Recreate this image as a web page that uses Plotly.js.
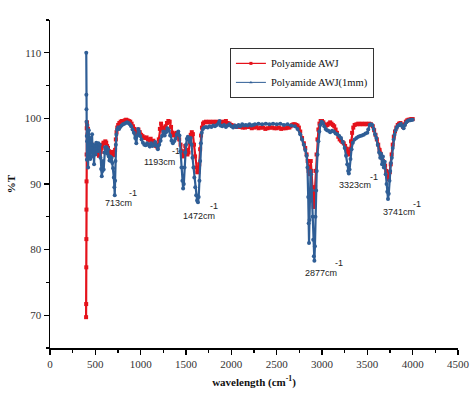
<!DOCTYPE html>
<html>
<head>
<meta charset="utf-8">
<script src="https://cdn.plot.ly/plotly-3.0.1.min.js"></script>
<style>html,body{margin:0;padding:0;background:#fff;}#chart{width:474px;height:393px;}</style>
</head>
<body>
<div id="chart"></div>
<script>
// Series names
var seriesNames = ["Polyamide AWJ", "Polyamide AWJ(1mm)"];

// Polyamide AWJ (red) — wavenumber (cm-1) and %T
var redX = [398,399,400,401,402,403,404,405,407,410,414,418,423,428,434,440,446,452,460,468,476,484,492,500,510,520,530,540,550,560,570,580,590,600,610,620,630,640,650,660,670,680,690,700,710,718,726,734,742,752,765,780,795,810,825,840,855,870,885,900,915,930,945,960,975,990,1005,1020,1035,1050,1065,1080,1095,1110,1125,1140,1155,1170,1185,1200,1212,1225,1238,1250,1262,1275,1290,1305,1320,1335,1350,1365,1380,1395,1410,1425,1440,1455,1468,1480,1492,1504,1516,1528,1540,1552,1564,1576,1588,1600,1612,1624,1636,1646,1656,1666,1676,1688,1700,1720,1740,1760,1780,1800,1820,1840,1860,1880,1900,1920,1940,1960,1980,2000,2020,2040,2060,2080,2100,2125,2150,2175,2200,2225,2250,2275,2300,2325,2350,2375,2400,2425,2450,2475,2500,2525,2550,2575,2600,2620,2640,2655,2670,2685,2700,2715,2730,2745,2760,2780,2800,2815,2830,2842,2852,2860,2868,2876,2884,2892,2900,2908,2916,2924,2932,2940,2950,2960,2972,2985,3000,3015,3030,3045,3060,3075,3090,3105,3120,3135,3150,3165,3180,3195,3210,3225,3240,3255,3270,3282,3292,3300,3310,3320,3332,3345,3360,3380,3400,3420,3440,3460,3480,3500,3520,3540,3560,3575,3590,3605,3620,3635,3648,3660,3672,3684,3696,3708,3718,3728,3738,3748,3758,3768,3780,3792,3805,3820,3835,3850,3865,3880,3895,3910,3925,3940,3955,3970,3985,4000];
var redY = [69.7,71.7,77.3,81.6,86.1,90.4,94.5,98.5,99.4,98.8,97.5,98.4,97.0,96.5,96.0,95.7,95.2,95.6,96.0,95.4,95.8,95.2,95.0,95.5,95.8,95.3,94.6,94.3,94.5,94.9,95.5,96.0,96.3,96.2,96.5,96.3,95.8,95.5,95.0,94.7,94.6,94.8,94.9,94.5,94.4,95.2,96.8,97.9,98.6,99.0,99.3,99.5,99.6,99.6,99.7,99.8,99.7,99.6,99.5,99.2,98.8,98.4,97.9,97.6,98.3,97.9,97.5,97.3,97.1,97.0,97.1,96.8,96.6,96.9,96.4,96.6,96.2,95.8,95.6,96.8,98.4,99.2,98.6,98.0,98.3,98.8,99.3,99.6,99.5,98.7,97.8,97.4,97.6,97.8,97.4,96.8,96.0,95.0,94.2,94.6,95.8,95.2,94.5,94.8,96.3,97.5,97.9,97.6,96.0,94.2,92.5,91.8,91.8,93.0,95.3,97.4,98.6,99.2,99.4,99.5,99.4,99.5,99.4,99.5,99.4,99.5,99.3,99.4,99.5,99.4,99.6,99.3,99.2,99.0,98.9,98.8,98.7,98.8,98.7,98.6,98.6,98.7,98.7,98.5,98.6,98.7,98.5,98.6,98.6,98.4,98.5,98.6,98.6,98.5,98.5,98.6,98.4,98.5,98.5,98.6,98.6,98.8,99.0,99.1,99.1,99.0,98.9,98.6,98.0,97.0,96.2,95.5,94.5,93.5,92.0,91.5,92.5,93.5,92.0,89.5,87.5,86.5,87.5,89.5,92.0,94.5,96.8,98.3,99.2,99.6,99.6,99.4,99.1,98.9,99.0,99.2,99.4,99.2,99.0,98.8,98.3,97.8,97.2,96.8,96.6,96.4,96.2,95.8,95.4,94.9,94.5,94.6,95.3,96.5,97.8,98.6,99.0,99.1,99.2,99.1,99.2,99.1,99.2,99.1,99.2,99.1,98.8,98.2,97.5,96.8,96.0,95.2,94.6,94.0,93.5,93.2,92.8,92.0,91.2,90.7,90.8,91.8,93.0,94.5,96.0,97.2,98.0,98.6,99.0,99.2,99.3,99.0,98.7,99.1,99.5,99.7,99.8,99.8,99.9,99.9];

// Polyamide AWJ(1mm) (blue) — wavenumber (cm-1) and %T
var blueX = [400,401,402,403,405,407,409,411,413,416,420,424,428,433,438,444,450,457,464,471,478,486,494,502,510,518,526,534,542,550,557,564,571,578,585,592,600,608,616,624,632,640,648,656,664,672,680,688,696,704,710,714,718,722,726,732,740,750,762,775,790,805,820,835,850,865,880,895,910,925,940,952,962,972,982,995,1010,1025,1040,1055,1070,1085,1100,1115,1130,1145,1160,1175,1190,1205,1220,1235,1250,1265,1280,1295,1310,1325,1340,1355,1370,1385,1400,1415,1428,1440,1450,1460,1468,1476,1484,1492,1500,1510,1520,1530,1540,1552,1562,1572,1582,1592,1602,1612,1622,1632,1640,1648,1656,1664,1674,1686,1700,1720,1740,1760,1780,1800,1820,1840,1860,1870,1880,1900,1920,1940,1960,1980,2000,2020,2040,2060,2080,2100,2120,2140,2160,2180,2200,2220,2240,2260,2300,2340,2380,2420,2460,2500,2540,2580,2620,2660,2700,2730,2760,2780,2800,2815,2830,2840,2848,2853,2857,2862,2868,2874,2880,2887,2895,2903,2910,2916,2922,2928,2935,2942,2950,2960,2970,2980,2995,3010,3025,3040,3055,3070,3090,3110,3130,3150,3170,3190,3210,3230,3250,3265,3278,3288,3296,3304,3314,3326,3340,3360,3380,3400,3420,3440,3460,3480,3500,3510,3525,3540,3555,3570,3585,3600,3615,3630,3642,3652,3662,3672,3682,3692,3702,3712,3720,3728,3736,3744,3752,3760,3770,3780,3790,3800,3812,3825,3840,3855,3870,3885,3900,3915,3930,3945,3960,3975,3990,4000];
var blueY = [110.0,103.6,101.4,99.5,97.3,93.7,96.5,99.0,94.5,97.8,92.5,96.8,98.2,94.0,96.5,93.8,97.0,95.5,97.6,94.2,96.0,93.0,95.8,94.5,96.3,95.8,95.0,96.2,95.5,96.0,94.0,92.3,91.2,92.0,93.5,92.2,94.8,95.6,95.0,95.6,94.6,95.3,94.2,93.6,94.2,93.5,94.0,93.2,92.4,91.0,89.5,88.3,90.5,93.5,96.0,97.5,98.3,98.6,98.4,98.7,98.9,99.1,99.2,99.3,99.4,99.3,99.1,98.8,98.3,97.8,97.0,96.2,97.4,98.4,98.0,97.3,96.8,96.3,96.0,95.9,96.2,96.0,95.7,96.2,95.8,95.9,96.4,95.8,95.3,96.0,96.6,97.3,98.0,97.4,97.9,98.5,98.2,97.4,96.6,96.2,96.5,96.9,97.6,98.0,97.4,95.0,92.5,90.5,89.3,90.0,92.5,94.8,96.0,96.9,97.2,96.8,96.4,97.0,96.0,94.0,92.5,91.0,89.5,88.3,87.5,87.2,88.0,90.5,93.5,96.2,97.8,98.4,98.6,98.7,98.6,98.8,98.7,98.9,98.8,99.0,99.3,99.6,98.9,98.8,99.0,98.7,98.9,99.1,98.8,98.6,98.9,98.7,99.0,98.8,99.1,98.9,99.0,98.9,99.1,98.9,99.0,99.1,99.2,99.1,99.2,99.1,99.2,99.1,99.2,99.0,99.1,98.9,98.8,98.4,97.6,96.8,96.0,95.2,94.3,92.5,88.0,84.0,81.0,84.5,89.0,92.0,91.5,89.0,85.0,81.5,79.0,78.3,80.5,85.0,89.0,92.0,94.5,96.5,98.0,99.0,99.5,99.3,98.8,98.4,98.2,98.1,97.9,98.1,98.0,97.7,97.6,97.3,97.0,96.4,95.5,94.3,93.0,92.0,91.6,92.2,93.8,95.3,96.3,96.8,97.0,97.2,97.3,97.4,97.5,97.7,97.8,98.3,99.0,99.1,99.0,98.4,97.6,97.0,96.0,94.8,94.0,94.6,93.0,94.2,92.5,93.4,91.5,90.0,88.8,87.7,88.5,90.5,92.0,93.2,94.0,95.5,96.8,97.5,98.2,98.6,98.9,99.0,99.2,98.8,98.5,99.0,99.4,99.6,99.7,99.7,99.8,99.8];

// Peak labels
var peakLabels = ["713cm", "1193cm", "1472cm", "2877cm", "3323cm", "3741cm"];
var peakLabelX = [585, 1015, 1445, 2791, 3166, 3651];
var peakLabelY = [87.05, 93.4, 85.1, 76.5, 89.9, 85.7];
var supLabelX = [850, 1325, 1744, 3123, 3509, 3983];
var supLabelY = [88.7, 95.0, 86.6, 77.9, 91.0, 86.9];

var redColor = "#e5121b";
var blueColor = "#2f5e96";

var traces = [
  {
    x: redX, y: redY, name: seriesNames[0], type: "scatter", mode: "lines+markers",
    showlegend: false,
    line: {color: redColor, width: 2.2},
    marker: {symbol: "square", size: 4, color: redColor}
  },
  {
    x: blueX, y: blueY, name: seriesNames[1], type: "scatter", mode: "lines+markers",
    showlegend: false,
    line: {color: blueColor, width: 2.2},
    marker: {symbol: "circle", size: 4, color: blueColor}
  },
  // legend entries (thin line + small marker, as in the original legend)
  {
    x: [null], y: [null], name: seriesNames[0], type: "scatter", mode: "lines+markers",
    line: {color: redColor, width: 1.2},
    marker: {symbol: "square", size: 3, color: redColor}
  },
  {
    x: [null], y: [null], name: seriesNames[1], type: "scatter", mode: "lines+markers",
    line: {color: blueColor, width: 1},
    marker: {symbol: "triangle-up", size: 3, color: blueColor}
  }
];

var annotations = [];
for (var i = 0; i < peakLabels.length; i++) {
  annotations.push({x: peakLabelX[i], y: peakLabelY[i], xref: "x", yref: "y", text: peakLabels[i],
    showarrow: false, xanchor: "left", yanchor: "middle",
    font: {family: "Liberation Sans, Arial, sans-serif", size: 9, color: "#222"}});
  annotations.push({x: supLabelX[i], y: supLabelY[i], xref: "x", yref: "y", text: "-1",
    showarrow: false, xanchor: "left", yanchor: "middle",
    font: {family: "Liberation Sans, Arial, sans-serif", size: 9, color: "#222"}});
}

var serif = "Liberation Serif, Times New Roman, serif";

var layout = {
  width: 474, height: 393,
  margin: {l: 50, r: 16, t: 20, b: 45},
  paper_bgcolor: "#fff", plot_bgcolor: "#fff",
  showlegend: true,
  legend: {
    x: 0.441, y: 0.915, xanchor: "left", yanchor: "top",
    bgcolor: "#fff", bordercolor: "#333", borderwidth: 1,
    font: {family: serif, size: 10.5, color: "#111"},
    itemwidth: 30,
    tracegroupgap: 0
  },
  xaxis: {
    range: [0, 4500], tick0: 0, dtick: 500,
    showgrid: false, zeroline: false,
    showline: true, linecolor: "#000", linewidth: 1.5,
    ticks: "outside", ticklen: 5, tickwidth: 1.2, tickcolor: "#000",
    minor: {dtick: 250, ticks: "outside", ticklen: 3, tickcolor: "#000", showgrid: false},
    tickfont: {family: serif, size: 11, color: "#333"},
    title: {text: "<b>wavelength (cm<sup>-1</sup>)</b>", font: {family: serif, size: 11, color: "#111"}, standoff: 9}
  },
  yaxis: {
    range: [65, 115], tick0: 0, dtick: 10,
    showgrid: false, zeroline: false,
    showline: true, linecolor: "#000", linewidth: 1.5,
    ticks: "outside", ticklen: 5, tickwidth: 1.2, tickcolor: "#000",
    minor: {dtick: 5, ticks: "outside", ticklen: 3, tickcolor: "#000", showgrid: false},
    tickfont: {family: serif, size: 11, color: "#333"},
    title: {text: "<b>%T</b>", font: {family: serif, size: 11, color: "#111"}, standoff: 7}
  },
  annotations: annotations
};

Plotly.newPlot("chart", traces, layout, {displayModeBar: false, staticPlot: true});
</script>
</body>
</html>
